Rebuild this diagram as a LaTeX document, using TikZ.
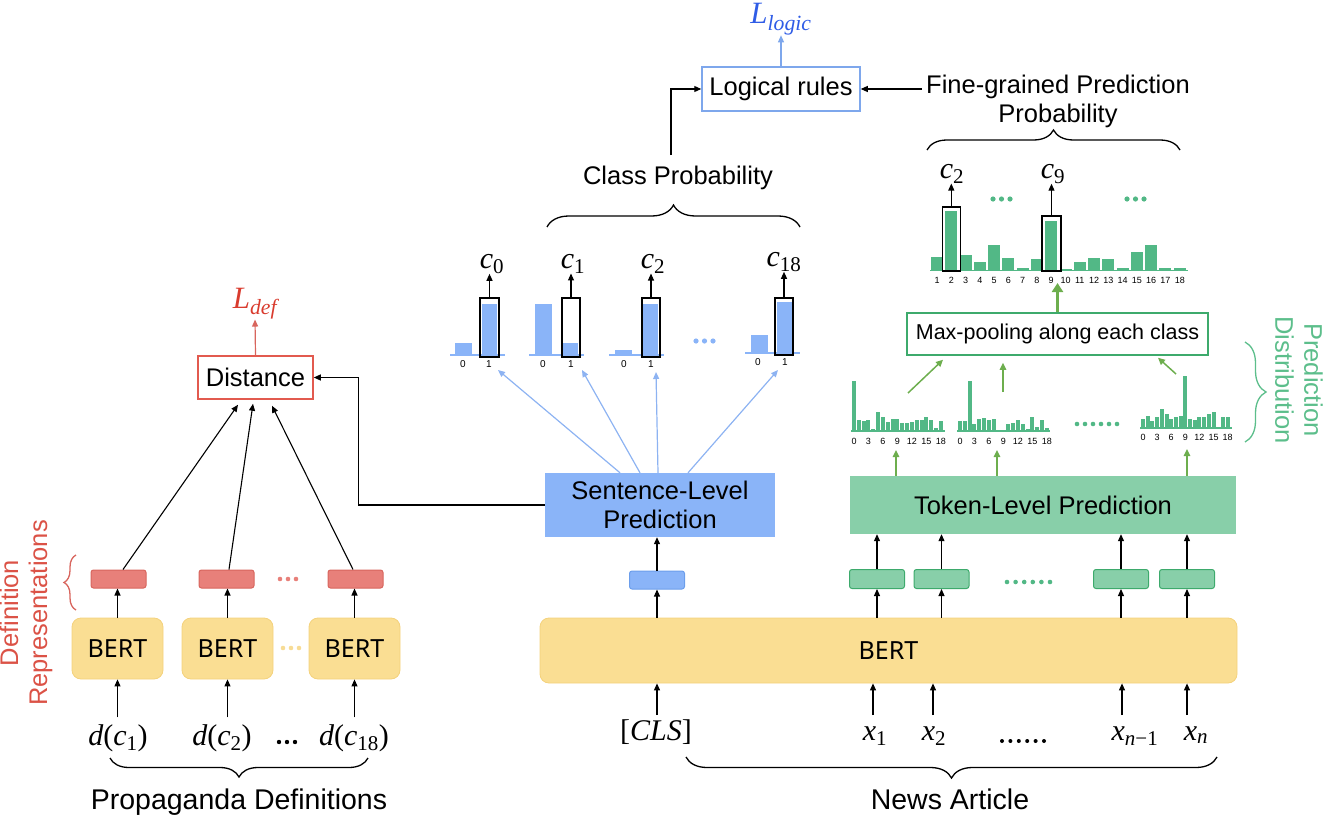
\documentclass[tikz,border=0pt]{standalone}
\usepackage{fontspec}
\setmainfont{Liberation Sans}
\newfontfamily\bertfont{Noto Sans}
\newfontfamily\tms{Liberation Serif}
\usetikzlibrary{arrows.meta,decorations.pathreplacing,calc}
\definecolor{bfill}{HTML}{8AB4F8}
\definecolor{bdark}{HTML}{6C9EEB}
\definecolor{bline}{HTML}{8DB3F2}
\definecolor{btext}{HTML}{2F5CE6}
\definecolor{lrcol}{HTML}{7EA7EC}
\definecolor{gfill}{HTML}{88CFA9}
\definecolor{gbar}{HTML}{52B886}
\definecolor{gdark}{HTML}{3DAA6C}
\definecolor{garrow}{HTML}{6DAE4E}
\definecolor{gtext}{HTML}{5CBE8B}
\definecolor{rfill}{HTML}{E8807A}
\definecolor{rdark}{HTML}{D8655D}
\definecolor{rbox}{HTML}{E25A4F}
\definecolor{rtext}{HTML}{DB5246}
\definecolor{ltext}{HTML}{D93B2E}
\definecolor{yfill}{HTML}{FADE93}
\definecolor{ydark}{HTML}{F4D27C}
\definecolor{ydots}{HTML}{F7DC96}
\newcommand\ivn[2]{{\tms\itshape #1\textsubscript{\upshape #2}}}
\newcommand\ivi[2]{{\tms\itshape #1\textsubscript{#2}}}
\newcommand\dc[1]{{\tms\itshape d\/\upshape(\textit{c}\textsubscript{#1})}}
\begin{document}
\begin{tikzpicture}[x=1pt,y=-1pt,
  arr/.style={draw=black,line width=1.1pt,-{Triangle[length=7pt,width=6pt]}},
  barr/.style={draw=bline,line width=1.2pt,-{Triangle[length=7pt,width=6pt]}},
  garr/.style={draw=garrow,line width=1.5pt,-{Triangle[length=7pt,width=6.5pt]}},
  rarr/.style={draw=rdark,line width=1.2pt,-{Triangle[length=7pt,width=6pt]}},
  lbl/.style={inner sep=0pt,font=\fontsize{25.5}{29}\selectfont},
  mth/.style={inner sep=0pt,font=\fontsize{30}{30}\selectfont},
  lmth/.style={inner sep=0pt,font=\fontsize{31}{31}\selectfont},
  tk/.style={inner sep=0pt,font=\fontsize{10}{10}\selectfont},
  stk/.style={inner sep=0pt,font=\fontsize{9}{9}\selectfont},
  frm/.style={draw,line width=1.5pt,fill=white,inner sep=0pt},
  bertbx/.style={fill=yfill,draw=ydark,line width=0.8pt,rounded corners=9pt,inner sep=0pt,font=\bertfont\fontsize{25}{25}\selectfont},
  rep/.style={line width=1pt,rounded corners=2.5pt,inner sep=0pt,minimum width=55pt,minimum height=18pt},
  outl/.style={draw=black,line width=1.3pt,inner sep=0pt},
  brc/.style={decorate,decoration={brace,amplitude=#1},line width=1.3pt},
]
\useasboundingbox (0,0) rectangle (1326,816);

% ================= TOP =================
\node[frm,draw=lrcol,minimum width=158pt,minimum height=44pt,lbl] (lr) at (781,89) {Logical rules};
\node[lmth,text=btext,anchor=base] (ll) at (781,24) {\ivi{L}{logic}};
\draw[barr,draw=lrcol] (lr.north) -- (ll.south);
\node[lbl,anchor=north,align=center] (fg) at (1058,75) {Fine-grained Prediction\\Probability};
\draw[arr] ($(fg.west |- lr.east)+(-4,0)$) -- (lr.east);
\draw[brc=20pt] (927,150) -- (1180,150);

\node[lbl,anchor=base] (cp) at (678,184) {Class Probability};
\draw[brc=22pt] (547,227) -- (800,227);
\coordinate (cpt) at (671,155);
\draw[arr] (cpt) |- (lr.west);

% ---- class probability charts
% chart c0
\draw[bfill,line width=1.5pt] (450,355) -- (505,355);
\fill[bfill] (455,354) rectangle (472,343);
\fill[bfill] (482,354) rectangle (497,304);
\node[outl,minimum width=19pt,minimum height=59pt] (o0) at (489.5,327.5) {};
\node[tk] (t00) at (463,364) {0};
\node[tk] (t01) at (489,364) {1};
\node[mth,anchor=base] (c0) at (492,268) {\ivn{c}{0}};
\draw[arr] (o0.north) -- (o0.north |- c0.south);
% chart c1
\draw[bfill,line width=1.5pt] (529,355) -- (584,355);
\fill[bfill] (535,354) rectangle (552,304);
\fill[bfill] (563,354) rectangle (578,343);
\node[outl,minimum width=18pt,minimum height=59pt] (o1) at (571,327.5) {};
\node[tk] (t10) at (543,364) {0};
\node[tk] (t11) at (571,364) {1};
\node[mth,anchor=base] (c1) at (573,268) {\ivn{c}{1}};
\draw[arr] (o1.north) -- (o1.north |- c1.south);
% chart c2
\draw[bfill,line width=1.5pt] (609,355) -- (664,355);
\fill[bfill] (615,354) rectangle (632,350);
\fill[bfill] (643,354) rectangle (658,304);
\node[outl,minimum width=18pt,minimum height=59pt] (o2) at (651,327.5) {};
\node[tk] (t20) at (624,364) {0};
\node[tk] (t21) at (651,364) {1};
\node[mth,anchor=base] (c2) at (653,268) {\ivn{c}{2}};
\draw[arr] (o2.north) -- (o2.north |- c2.south);
% chart c18
\draw[bfill,line width=1.5pt] (745,353) -- (800,353);
\fill[bfill] (751,352) rectangle (768,335);
\fill[bfill] (777,352) rectangle (792,302);
\node[outl,minimum width=18pt,minimum height=57pt] (o18) at (784,326.5) {};
\node[tk] (t180) at (758,362) {0};
\node[tk] (t181) at (785,362) {1};
\node[mth,anchor=base] (c18) at (784,266) {\ivn{c}{18}};
\draw[arr] (o18.north) -- (o18.north |- c18.south);
\foreach \x in {696,704.5,713} \fill[bfill] (\x,341) circle (2.6);

% ---- fine-grained chart
\draw[gbar,line width=1.5pt] (930,270.5) -- (1188,270.5);
\foreach \h [count=\i] in {13,59,15,8,25,12,2,11,49,1,8,12,11,2,18,25,2,2} {
  \fill[gbar] (937+\i*14.28-14.28-6,270) rectangle (937+\i*14.28-14.28+6,270-\h);
  \node[stk] (ft\i) at (937+\i*14.28-14.28,280) {\i};
}
\node[outl,minimum width=18pt,minimum height=64pt] (f2) at (951.3,239) {};
\node[outl,minimum width=19pt,minimum height=55pt] (f9) at (1051.5,243.5) {};
\node[mth,anchor=base] (fc2) at (952,178) {\ivn{c}{2}};
\node[mth,anchor=base] (fc9) at (1053,178) {\ivn{c}{9}};
\draw[arr] (f2.north) -- (f2.north |- fc2.south);
\draw[arr] (f9.north) -- (f9.north |- fc9.south);
\foreach \x in {993,1001.5,1010,1127,1135.5,1144} \fill[gbar] (\x,199) circle (2.6);

% ---- max pooling
\node[frm,draw=gdark,minimum width=301pt,minimum height=42pt,inner sep=0pt,font=\fontsize{21.5}{24}\selectfont] (mp) at (1057.5,334) {Max-pooling along each class};
\coordinate (fgb) at (1057.5,283);
\draw[garr,line width=3pt,-{Triangle[length=9pt,width=11pt]}] (mp.north) -- (fgb);

% ---- prediction distribution charts
\draw[gbar,line width=1.3pt] (851,431) -- (945,431);
\foreach \h [count=\i from 0] in {50,11,10,11,2,19,14,9,12,12,8,8,9,11,11,14,11,3,10}
  \fill[gbar] (854+\i*4.83-2,430.5) rectangle (854+\i*4.83+2,430.5-\h);
\foreach \t in {0,3,...,18} \node[stk] (pa\t) at (854+\t*4.83,441) {\t};

\draw[gbar,line width=1.3pt] (957,431) -- (1050,431);
\foreach \h [count=\i from 0] in {10,10,50,7,12,13,11,12,1,1,7,8,11,7,2,14,4,11,3}
  \fill[gbar] (960+\i*4.83-2,430.5) rectangle (960+\i*4.83+2,430.5-\h);
\foreach \t in {0,3,...,18} \node[stk] (pb\t) at (960+\t*4.83,441) {\t};

\draw[gbar,line width=1.3pt] (1140,428) -- (1232,428);
\foreach \h [count=\i from 0] in {9,12,7,11,19,14,9,11,12,52,9,8,11,11,14,16,1,11,11}
  \fill[gbar] (1143+\i*4.7-2,427.5) rectangle (1143+\i*4.7+2,427.5-\h);
\foreach \t in {0,3,...,18} \node[stk] (pc\t) at (1143+\t*4.7,437) {\t};

\foreach \k in {0,...,5} \fill[gbar] (1077+\k*8,424) circle (2.3);

\coordinate (pa) at (908,393);
\coordinate (pb) at (1003,392);
\coordinate (pc) at (1176,374);
\draw[garr] (pa) -- ($(mp.south)+(-114.5,4)$);
\draw[garr] (pb) -- ($(mp.south)+(-54.5,7)$);
\draw[garr] (pc) -- ($(mp.south)+(100.5,2)$);

\draw[brc=21pt,draw=gtext] (1245,342) -- (1245,442);
\node[lbl,text=gtext,rotate=-90,align=center] (pd) at (1299,380) {Prediction\\Distribution};

% ================= MIDDLE =================
\node[fill=bfill,minimum width=230pt,minimum height=64pt,inner sep=0pt,lbl,align=center] (sent) at (660,505) {Sentence-Level\\Prediction};
\node[fill=gfill,minimum width=386pt,minimum height=58pt,inner sep=0pt,lbl] (tok) at (1043,505) {Token-Level Prediction};

\coordinate (ca0) at (498,370);
\coordinate (ca1) at (582,370);
\coordinate (ca2) at (656,372);
\coordinate (ca3) at (778,370);
\draw[barr] ($(sent.north)+(-40,0)$) -- (ca0);
\draw[barr] ($(sent.north)+(-20,0)$) -- (ca1);
\draw[barr] ($(sent.north)+(-2,0)$) -- (ca2);
\draw[barr] ($(sent.north)+(28,0)$) -- (ca3);

\coordinate (ga) at (896,450);
\coordinate (gb) at (997,450);
\coordinate (gc) at (1187,449);
\draw[garr] ($(tok.north)+(-147,0)$) -- (ga);
\draw[garr] ($(tok.north)+(-46,0)$) -- (gb);
\draw[garr] ($(tok.north)+(144,0)$) -- (gc);

% small representation boxes
\node[rep,fill=bfill,draw=bdark] (s0) at (657,580) {};
\node[rep,fill=gfill,draw=gdark,minimum height=19pt] (s1) at (877,579) {};
\node[rep,fill=gfill,draw=gdark,minimum height=19pt] (s2) at (941.5,579) {};
\node[rep,fill=gfill,draw=gdark,minimum height=19pt] (s3) at (1121,579) {};
\node[rep,fill=gfill,draw=gdark,minimum height=19pt] (s4) at (1187,579) {};
\foreach \k in {0,...,5} \fill[gbar] (1007+\k*8.6,582) circle (2.3);

\draw[arr] (s0.north) -- (s0.north |- sent.south);
\draw[arr] (s1.north) -- (s1.north |- tok.south);
\draw[arr] (s2.north) -- (s2.north |- tok.south);
\draw[arr] (s3.north) -- (s3.north |- tok.south);
\draw[arr] (s4.north) -- (s4.north |- tok.south);

% big BERT
\node[bertbx,minimum width=697pt,minimum height=65pt] (bert) at (888.5,650.5) {BERT};
\draw[arr] (s0.south |- bert.north) -- (s0.south);
\draw[arr] (s1.south |- bert.north) -- (s1.south);
\draw[arr] (s2.south |- bert.north) -- (s2.south);
\draw[arr] (s3.south |- bert.north) -- (s3.south);
\draw[arr] (s4.south |- bert.north) -- (s4.south);

% inputs
\node[mth,anchor=base] (lcls) at (656,740) {{\tms[\itshape CLS\/\upshape]}};
\node[mth,anchor=base] (lx1) at (875,740) {\ivn{x}{1}};
\node[mth,anchor=base] (lx2) at (934,740) {\ivn{x}{2}};
\node[mth,anchor=base] (lxm) at (1135,740) {{\tms\itshape x\textsubscript{n\upshape −1}}};
\node[mth,anchor=base] (lxn) at (1196,740) {\ivi{x}{n}};
\foreach \k in {0,...,5} \fill[black] (1002+\k*8.4,741) circle (2);
\coordinate (i0) at (657,715);
\coordinate (i1) at (873,715);
\coordinate (i2) at (933,715);
\coordinate (i3) at (1122,715);
\coordinate (i4) at (1187,715);
\draw[arr] (i0) -- (i0 |- bert.south);
\draw[arr] (i1) -- (i1 |- bert.south);
\draw[arr] (i2) -- (i2 |- bert.south);
\draw[arr] (i3) -- (i3 |- bert.south);
\draw[arr] (i4) -- (i4 |- bert.south);
\draw[brc=21pt] (1217,757) -- (686,757);
\node[lbl,anchor=base,font=\fontsize{28.5}{30}\selectfont] (na) at (950,809) {News Article};

% ================= LEFT =================
\node[frm,draw=rbox,minimum width=115pt,minimum height=43pt,lbl] (dist) at (255.5,377.5) {Distance};
\node[lmth,text=ltext,anchor=base] (ld) at (255,308) {\ivi{L}{def}};
\draw[rarr] (dist.north) -- (ld.south);
\draw[arr] (sent.west) -- ++(-186,0) |- (dist.east);

\node[bertbx,minimum width=91pt,minimum height=61pt] (b1) at (117.5,648.5) {BERT};
\node[bertbx,minimum width=91pt,minimum height=61pt] (b2) at (227.5,648.5) {BERT};
\node[bertbx,minimum width=91pt,minimum height=61pt] (b3) at (354.5,648.5) {BERT};
\foreach \x in {283,291,299} \fill[ydots] (\x,648) circle (2.3);
\node[rep,fill=rfill,draw=rdark] (r1) at (118.5,579) {};
\node[rep,fill=rfill,draw=rdark] (r2) at (226.5,579) {};
\node[rep,fill=rfill,draw=rdark] (r3) at (355.5,579) {};
\foreach \x in {280,288,296} \fill[rfill] (\x,579) circle (2.3);

\draw[arr] (b1.north) -- (b1.north |- r1.south);
\draw[arr] (b2.north) -- (b2.north |- r2.south);
\draw[arr] (b3.north) -- (b3.north |- r3.south);
\draw[arr] ($(r1.north)+(4.5,0)$) -- ($(dist.south)+(-17.5,5)$);
\draw[arr] ($(r2.north)+(2.5,0)$) -- ($(dist.south)+(-2.5,4)$);
\draw[arr] ($(r3.north)+(-2.5,0)$) -- ($(dist.south)+(16.5,6)$);

\node[mth,anchor=base] (d1) at (118,745) {\dc{1}};
\node[mth,anchor=base] (d2) at (222,745) {\dc{2}};
\node[mth,anchor=base] (d3) at (354,745) {\dc{18}};
\foreach \x in {279,287,295} \fill[black] (\x,742) circle (2.2);
\draw[arr] ($(b1.south)+(0,38)$) -- (b1.south);
\draw[arr] ($(b2.south)+(0,38)$) -- (b2.south);
\draw[arr] ($(b3.south)+(0,38)$) -- (b3.south);
\draw[brc=19pt] (368,758) -- (110,758);
\node[lbl,anchor=base,font=\fontsize{28.5}{30}\selectfont] (pdef) at (239,809) {Propaganda Definitions};

\draw[brc=12pt,draw=rdark] (76,610) -- (76,555);
\node[lbl,text=rtext,rotate=90,align=center] (drep) at (26,613) {Definition\\Representations};
\end{tikzpicture}
\end{document}
